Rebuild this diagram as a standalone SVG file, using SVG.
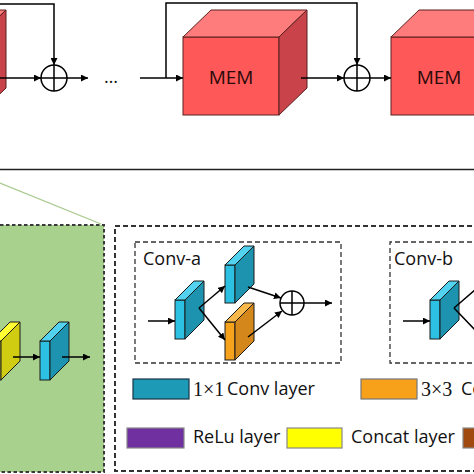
<svg xmlns="http://www.w3.org/2000/svg" width="474" height="474" viewBox="0 0 474 474">
<defs>
<marker id="ah" viewBox="0 0 10 10" refX="10" refY="5" markerWidth="7" markerHeight="7" markerUnits="userSpaceOnUse" orient="auto">
<path d="M0,0 L10,5 L0,10 Z" fill="#000"/>
</marker>
<style>
.ln{stroke:#000;stroke-width:1.5;fill:none}
.arr{stroke:#000;stroke-width:1.5;fill:none;marker-end:url(#ah)}
.thin{stroke:#000;stroke-width:1.2;fill:none}
.mf{fill:#fe5858;stroke:#5a2020;stroke-width:1}
.mt{fill:#fe7c7c;stroke:#5a2020;stroke-width:1}
.ms{fill:#c9434b;stroke:#5a2020;stroke-width:1}
.bf{fill:#2cc1e3;stroke:#1a1a1a;stroke-width:1}
.bt{fill:#52d2ef;stroke:#1a1a1a;stroke-width:1}
.bs{fill:#1d93b0;stroke:#1a1a1a;stroke-width:1}
.of{fill:#f7a21d;stroke:#1a1a1a;stroke-width:1}
.ot{fill:#f8b84c;stroke:#1a1a1a;stroke-width:1}
.os{fill:#d4871b;stroke:#1a1a1a;stroke-width:1}
.yf{fill:#ffff33;stroke:#1a1a1a;stroke-width:1}
.ys{fill:#cfcc12;stroke:#1a1a1a;stroke-width:1}
.circ{fill:#fff;stroke:#000;stroke-width:1.5}
.mem{font-family:"Open Sans","Liberation Sans",sans-serif;font-size:19px;fill:#2a0a0a;text-anchor:middle}
.lbl{font-family:"Open Sans","Liberation Sans",sans-serif;font-size:18px;fill:#111}
.ser{font-family:"Liberation Serif","Times New Roman",serif;font-size:20px;fill:#111}
.dash{fill:none;stroke:#333;stroke-width:1.3;stroke-dasharray:5 3}
</style>
</defs>
<rect width="474" height="474" fill="#fff"/>

<!-- top row -->
<g id="mem0">
<polygon class="mt" points="-118,37 -90,10 6,10 -22,37"/>
<polygon class="ms" points="-22,37 6,10 6,88 -22,115"/>
</g>
<g id="mem1">
<rect class="mf" x="183" y="37" width="96" height="78"/>
<polygon class="mt" points="183,37 211,10 307,10 279,37"/>
<polygon class="ms" points="279,37 307,10 307,88 279,115"/>
<text class="mem" x="231" y="84">MEM</text>
</g>
<g id="mem2">
<rect class="mf" x="391" y="37" width="96" height="78"/>
<polygon class="mt" points="391,37 419,10 515,10 487,37"/>
<text class="mem" x="439" y="84">MEM</text>
</g>
<g id="add1">
<circle class="circ" cx="54" cy="78" r="13"/>
<path class="ln" d="M41,78 H67 M54,65 V91"/>
</g>
<g id="add2">
<circle class="circ" cx="357" cy="78" r="13"/>
<path class="ln" d="M344,78 H370 M357,65 V91"/>
</g>
<g id="dots">
<text class="lbl" x="111" y="83" text-anchor="middle" font-size="16">…</text>
</g>
<g id="top-connectors">
<path class="arr" d="M0,4 H54 V65"/>
<path class="arr" d="M0,78 H41"/>
<path class="arr" d="M67,78 H88"/>
<path class="arr" d="M140,78 H183"/>
<path class="arr" d="M166,78 V3 H357 V65"/>
<path class="arr" d="M301,78 H344"/>
<path class="arr" d="M370,78 H391"/>
</g>

<!-- separator -->
<line x1="0" y1="169.5" x2="474" y2="169.5" stroke="#222" stroke-width="1.5"/>
<line x1="0" y1="183" x2="101" y2="224" stroke="#a8c98c" stroke-width="1.3"/>

<!-- green panel -->
<g id="green-panel">
<rect x="-5" y="225" width="109" height="247" fill="#a9d18e"/>
<path d="M0,225 H104 V472 H0" fill="none" stroke="#3a3a3a" stroke-width="2" stroke-dasharray="3.5 2.5"/>
<g id="yellow-block">
<rect class="yf" x="-9" y="341" width="10" height="39"/>
<polygon class="yf" points="-9,341 10,322 20,322 1,341"/>
<polygon class="ys" points="1,341 20,322 20,361 1,380"/>
</g>
<g id="blue-block-g">
<rect class="bf" x="40" y="341" width="10" height="39"/>
<polygon class="bt" points="40,341 59,322 69,322 50,341"/>
<polygon class="bs" points="50,341 69,322 69,361 50,380"/>
</g>
<path class="arr" d="M13,357 H40"/>
<path class="arr" d="M62,357 H90"/>
</g>

<!-- outer box -->
<path d="M480,226 H115 V471 H480" fill="none" stroke="#333" stroke-width="2" stroke-dasharray="5 3"/>

<!-- Conv-a -->
<g id="conv-a">
<rect class="dash" x="135" y="242" width="206" height="121"/>
<text class="lbl" x="143" y="265">Conv-a</text>
<g id="ca-b1">
<rect class="bf" x="175" y="300" width="10" height="39"/>
<polygon class="bt" points="175,300 194,281 204,281 185,300"/>
<polygon class="bs" points="185,300 204,281 204,320 185,339"/>
</g>
<g id="ca-b2">
<rect class="bf" x="225" y="265" width="10" height="38"/>
<polygon class="bt" points="225,265 244,246 254,246 235,265"/>
<polygon class="bs" points="235,265 254,246 254,284 235,303"/>
</g>
<g id="ca-b3">
<rect class="of" x="225" y="322" width="10" height="38"/>
<polygon class="ot" points="225,322 244,303 254,303 235,322"/>
<polygon class="os" points="235,322 254,303 254,341 235,360"/>
</g>
<g id="ca-add">
<circle class="circ" cx="292" cy="303" r="12"/>
<path class="ln" d="M280,303 H304 M292,291 V315"/>
</g>
<g id="ca-connectors">
<path class="arr" d="M148,321 H175"/>
<path class="arr" d="M199,308 L225,286"/>
<path class="arr" d="M199,308 L225,340"/>
<path class="arr" d="M248,287 L281,298"/>
<path class="arr" d="M248,337 L282,311"/>
<path class="arr" d="M304,303 H332"/>
</g>
</g>

<!-- Conv-b -->
<g id="conv-b">
<path class="dash" d="M480,242 H390 V363 H480"/>
<text class="lbl" x="394" y="265">Conv-b</text>
<g id="cb-b1">
<rect class="bf" x="430" y="300" width="10" height="39"/>
<polygon class="bt" points="430,300 449,281 459,281 440,300"/>
<polygon class="bs" points="440,300 459,281 459,320 440,339"/>
</g>
<g id="cb-connectors">
<path class="arr" d="M403,321 H430"/>
<path class="ln" d="M454,308 L476,289 M454,308 L476,331"/>
</g>
</g>

<!-- legend -->
<g id="legend">
<rect x="133" y="379" width="56" height="20" fill="#1c9ab6" stroke="#1a3446" stroke-width="1.2"/>
<text class="ser" x="193" y="396">1×1</text>
<text class="lbl" x="227" y="395">Conv layer</text>
<rect x="361" y="379" width="56" height="20" fill="#f7a11b" stroke="#777" stroke-width="1.2"/>
<text class="ser" x="421" y="396">3×3</text>
<text class="lbl" x="461" y="395">Conv layer</text>
<rect x="127" y="428" width="57" height="20" fill="#7030a0" stroke="#888" stroke-width="1.2"/>
<text class="lbl" x="193" y="443">ReLu layer</text>
<rect x="287" y="428" width="55" height="20" fill="#ffff00" stroke="#888" stroke-width="1.2"/>
<text class="lbl" x="351" y="443">Concat layer</text>
<rect x="463" y="428" width="30" height="20" fill="#a04a10" stroke="#888" stroke-width="1.2"/>
</g>
</svg>
